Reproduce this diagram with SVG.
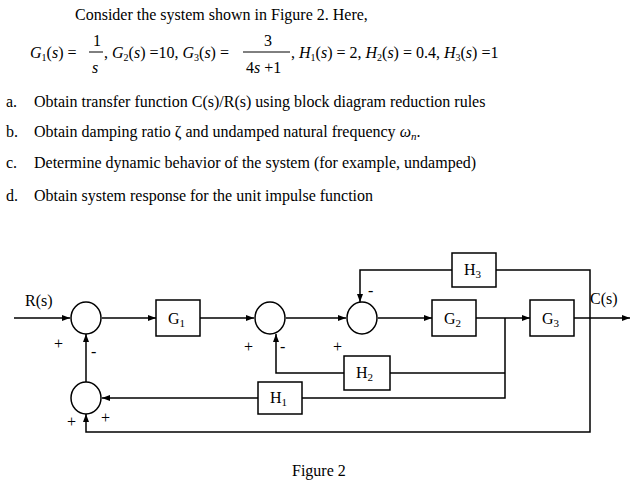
<svg xmlns="http://www.w3.org/2000/svg" width="635" height="483" viewBox="0 0 635 483">
<style>
text{font-family:"Liberation Serif",serif;font-size:16px;fill:#000}
.m{font-style:italic}
.sb{font-size:10px}
.l{stroke:#000;stroke-width:1.5;fill:none}
.b{stroke:#000;stroke-width:1.5;fill:#fff}
</style>
<defs><marker id="a" markerWidth="8" markerHeight="6" refX="8" refY="3" orient="auto" markerUnits="userSpaceOnUse"><path d="M0,0L8,3L0,6z"/></marker></defs>
<rect width="635" height="483" fill="#fff"/>
<text x="75" y="20">Consider the system shown in Figure 2. Here,</text>
<text x="30" y="58"><tspan class="m">G</tspan><tspan class="sb" dy="3">1</tspan><tspan dy="-3">(</tspan><tspan class="m">s</tspan>) =</text>
<text x="93" y="46">1</text><line x1="89" y1="52" x2="103" y2="52" stroke="#000"/><text x="92" y="73" class="m">s</text>
<text x="104" y="58">, <tspan class="m">G</tspan><tspan class="sb" dy="3">2</tspan><tspan dy="-3">(</tspan><tspan class="m">s</tspan>) =10, <tspan class="m">G</tspan><tspan class="sb" dy="3">3</tspan><tspan dy="-3">(</tspan><tspan class="m">s</tspan>) =</text>
<text x="264" y="46">3</text><line x1="243" y1="52" x2="290" y2="52" stroke="#000"/><text x="246" y="73">4<tspan class="m">s</tspan> +1</text>
<text x="291" y="58">, <tspan class="m">H</tspan><tspan class="sb" dy="3">1</tspan><tspan dy="-3">(</tspan><tspan class="m">s</tspan>) = 2, <tspan class="m">H</tspan><tspan class="sb" dy="3">2</tspan><tspan dy="-3">(</tspan><tspan class="m">s</tspan>) = 0.4, <tspan class="m">H</tspan><tspan class="sb" dy="3">3</tspan><tspan dy="-3">(</tspan><tspan class="m">s</tspan>) =1</text>
<text x="6" y="107">a.</text><text x="34" y="107">Obtain transfer function C(s)/R(s) using block diagram reduction rules</text>
<text x="6" y="137">b.</text><text x="34" y="137">Obtain damping ratio ζ and undamped natural frequency <tspan class="m">ω<tspan font-size="11" dy="3">n</tspan></tspan><tspan dy="-3">.</tspan></text>
<text x="6" y="168">c.</text><text x="34" y="168">Determine dynamic behavior of the system (for example, undamped)</text>
<text x="6" y="201">d.</text><text x="34" y="201">Obtain system response for the unit impulse function</text>
<g id="connectors" class="l">
<path d="M14,318H70" marker-end="url(#a)"/>
<path d="M102,318H156" marker-end="url(#a)"/>
<path d="M200,318H254" marker-end="url(#a)"/>
<path d="M286,318H346" marker-end="url(#a)"/>
<path d="M378,318H432" marker-end="url(#a)"/>
<path d="M476,318H530" marker-end="url(#a)"/>
<path d="M574,318H630" marker-end="url(#a)"/>
<path d="M590,318V270H496"/>
<path d="M452,270H360V302" marker-end="url(#a)"/>
<path d="M505,318V398H302"/>
<path d="M258,398H102" marker-end="url(#a)"/>
<path d="M505,373H390"/>
<path d="M344,373H276V334" marker-end="url(#a)"/>
<path d="M590,318V432H86V414" marker-end="url(#a)"/>
<path d="M86,382V334" marker-end="url(#a)"/>
</g>
<g id="s1"><ellipse class="b" cx="86" cy="318" rx="15" ry="16"/></g>
<g id="s2"><ellipse class="b" cx="270" cy="318" rx="15" ry="16"/></g>
<g id="s3"><ellipse class="b" cx="362" cy="318" rx="15" ry="16"/></g>
<g id="s4"><ellipse class="b" cx="86" cy="398" rx="15" ry="16"/></g>
<g id="G1"><rect class="b" x="156" y="300" width="44" height="36"/><text x="168" y="324">G<tspan font-size="11" dy="3">1</tspan></text></g>
<g id="G2"><rect class="b" x="432" y="300" width="44" height="36"/><text x="444" y="324">G<tspan font-size="11" dy="3">2</tspan></text></g>
<g id="G3"><rect class="b" x="530" y="300" width="44" height="36"/><text x="542" y="324">G<tspan font-size="11" dy="3">3</tspan></text></g>
<g id="H3"><rect class="b" x="452" y="253" width="44" height="34"/><text x="464" y="275">H<tspan font-size="11" dy="3">3</tspan></text></g>
<g id="H2"><rect class="b" x="344" y="356" width="46" height="34"/><text x="356" y="378">H<tspan font-size="11" dy="3">2</tspan></text></g>
<g id="H1"><rect class="b" x="258" y="382" width="44" height="32"/><text x="270" y="403">H<tspan font-size="11" dy="3">1</tspan></text></g>
<text x="25" y="306">R(s)</text><text x="590" y="304">C(s)</text>
<text x="54" y="349">+</text><text x="91" y="357">-</text>
<text x="244" y="352">+</text><text x="280" y="352">-</text>
<text x="333" y="352">+</text><text x="368" y="296">-</text>
<text x="67" y="427">+</text><text x="101" y="423">+</text>
<text x="292" y="476">Figure 2</text>
</svg>
